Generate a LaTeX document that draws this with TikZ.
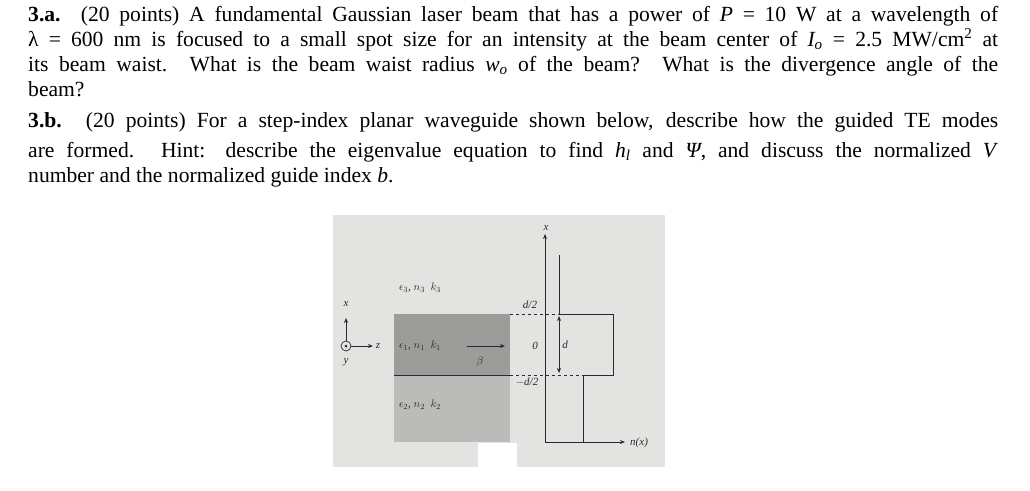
\documentclass[tikz,border=0pt]{standalone}
\usepackage{fontspec}
\setmainfont{Liberation Serif}
\usetikzlibrary{arrows.meta}
\definecolor{bgph}{HTML}{E3E3E1}
\definecolor{core}{HTML}{9C9C9A}
\definecolor{clad}{HTML}{BBBBB9}
\definecolor{ink}{HTML}{2A2A2A}
\begin{document}
\begin{tikzpicture}[x=1pt,y=-1pt,
  tl/.style={anchor=base west,inner sep=0pt,font=\fontsize{21.6}{25}\selectfont},
  fl/.style={inner sep=0pt,font=\fontsize{11}{12}\selectfont\itshape,text=ink},
  ln/.style={draw=ink,line width=1pt},
  dl/.style={draw=ink,dashed,line width=0.5pt},
  ar/.style={-{Stealth[length=5pt,width=4pt]},draw=ink,line width=0.8pt}]
\useasboundingbox (0,0) rectangle (1030,490);
\fill[white] (0,0) rectangle (1030,490);
\node[tl] (l1) at (28,21) {\makebox[970pt][s]{\textbf{3.a.} (20 points) A fundamental Gaussian laser beam that has a power of \textit{P} = 10 W at a wavelength of}};
\node[tl] (l2) at (28,46) {\makebox[970pt][s]{λ = 600 nm is focused to a small spot size for an intensity at the beam center of \textit{I\textsubscript{o}} = 2.5 MW/cm\textsuperscript{2} at}};
\node[tl] (l3) at (28,71) {\makebox[970pt][s]{its beam waist. What is the beam waist radius \textit{w\textsubscript{o}} of the beam? What is the divergence angle of the}};
\node[tl] (l4) at (28,96) {beam?};
\node[tl] (l5) at (28,127) {\makebox[970pt][s]{\textbf{3.b.} (20 points) For a step-index planar waveguide shown below, describe how the guided TE modes}};
\node[tl] (l6) at (28,157) {\makebox[970pt][s]{are formed. Hint: describe the eigenvalue equation to find \textit{h\textsubscript{l}} and \textit{Ψ}, and discuss the normalized \textit{V}}};
\node[tl] (l7) at (28,182) {number and the normalized guide index \textit{b}.};
% photo
\fill[bgph] (333,215) rectangle (665,467);
\fill[white] (478,443) rectangle (517,467);
\fill[clad] (394,375) rectangle (510,442);
\fill[core] (394,314) rectangle (510,375);
\draw[ink,line width=0.5pt] (394,375) -- (510,375);
\node[fl] (t3) at (420,288) {$\epsilon_3$, $n_3$ \ $k_3$};
\node[fl] (t1) at (420,346) {$\epsilon_1$, $n_1$ \ $k_1$};
\node[fl] (t2) at (420,405) {$\epsilon_2$, $n_2$ \ $k_2$};
\coordinate (b0) at (467,346); \coordinate (b1) at (505,346);
\draw[ar,line width=0.7pt] (b0) -- (b1);
\node[fl] (beta) at (480,362) {$\beta$};
% coordinate system
\draw[ink,line width=0.7pt] (346,346) circle (5);
\fill[ink] (346,346) circle (1.5);
\coordinate (o) at (346,346);
\coordinate (ox) at (346,318); \coordinate (oz) at (373,346);
\draw[ar,line width=0.7pt] (346,341) -- (ox);
\draw[ar,line width=0.7pt] (351,346) -- (oz);
\node[fl] (xl) at (346,304) {x};
\node[fl] (zl) at (378,346) {z};
\node[fl] (yl) at (346,362) {y};
% axes
\coordinate (a0) at (545,442); \coordinate (ay) at (545,234); \coordinate (ax) at (625,442);
\draw[ar] (a0) -- (ay);
\draw[ar] (a0) -- (ax);
\node[fl] (xa) at (546,228) {x};
\node[fl,anchor=west] (nx) at (630,443) {n(x)};
% profile
\draw[ln] (559,255) -- (559,314) -- (613,314) -- (613,375) -- (583,375) -- (583,442);
\draw[dl] (510,314) -- (559,314);
\draw[dl] (510,375) -- (583,375);
\coordinate (d0) at (559,316); \coordinate (d1) at (559,373);
\draw[ar,line width=0.6pt] (559,345) -- (d0);
\draw[ar,line width=0.6pt] (559,345) -- (d1);
\node[fl] (dd) at (565,345) {d};
\node[fl] (zero) at (535,346) {0};
\node[fl] (dp) at (530,305) {d/2};
\node[fl] (dm) at (527,382) {$-$d/2};
\end{tikzpicture}
\end{document}
